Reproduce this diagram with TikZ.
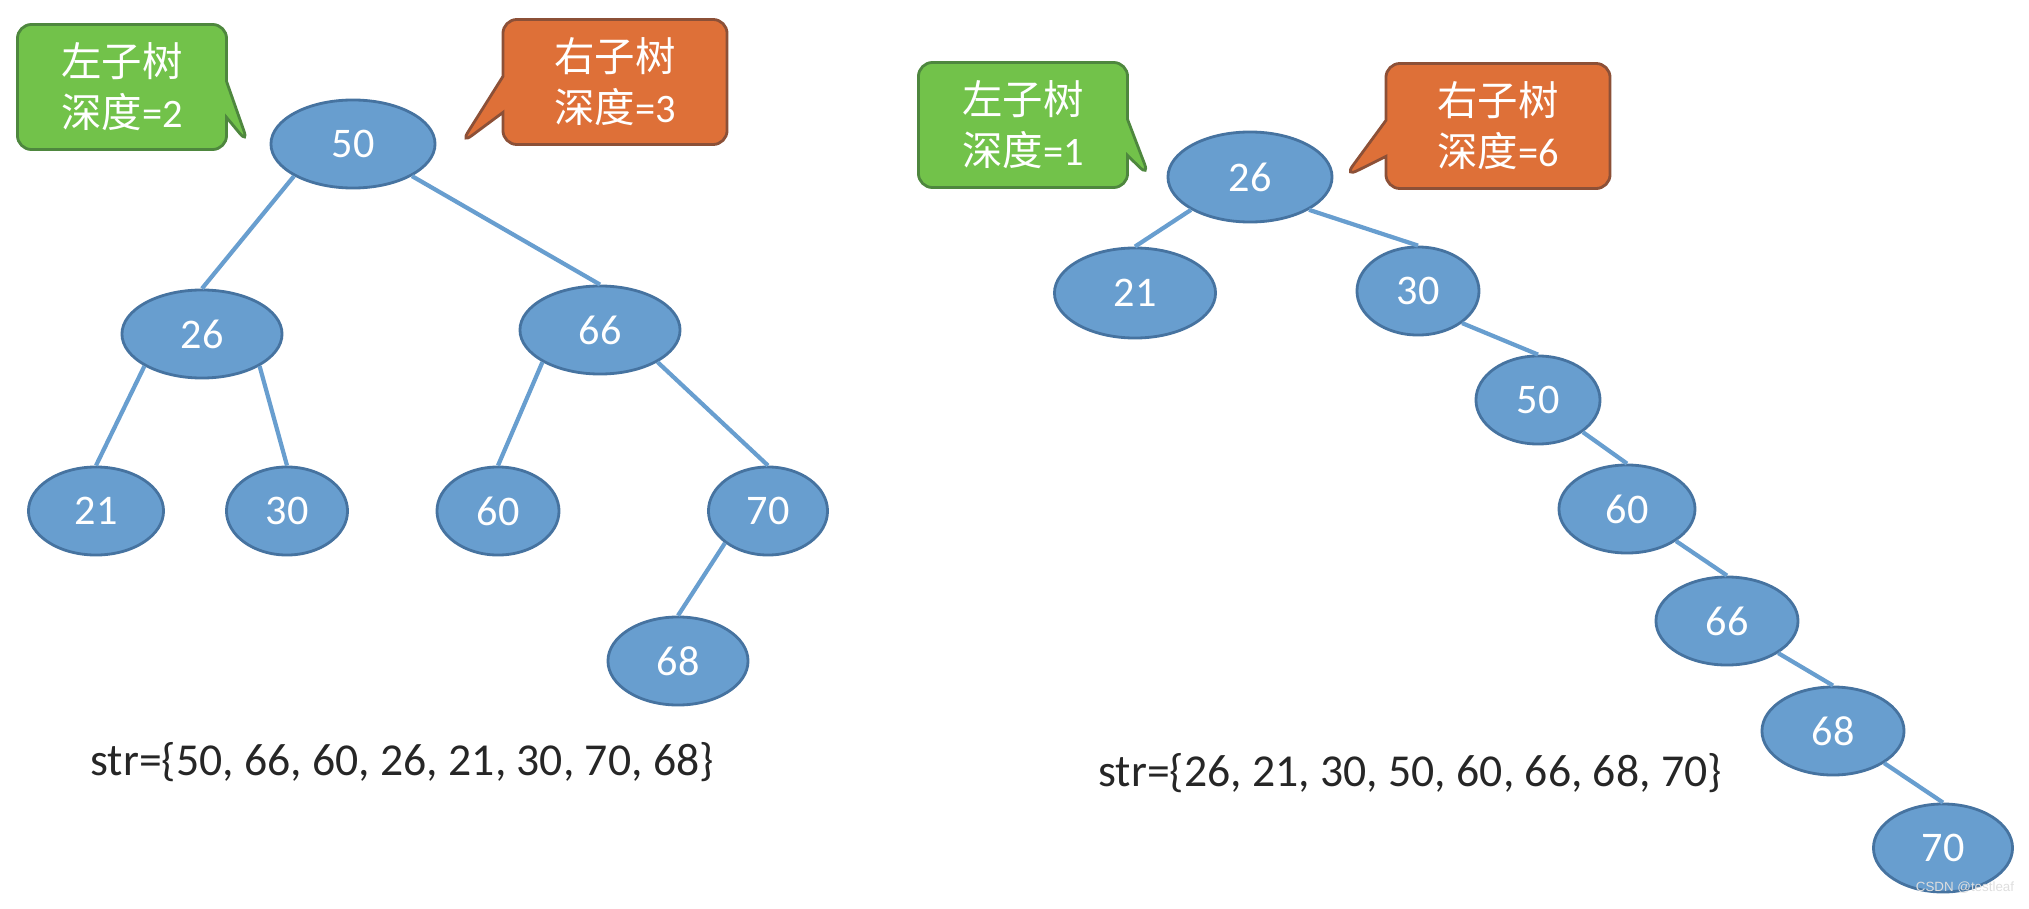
\documentclass[tikz,border=0pt]{standalone}
\usepackage{fontspec}
\setmainfont{Carlito}
\newfontfamily\cjk{Noto Sans CJK SC}
\newfontfamily\markfont{Liberation Sans}
\usetikzlibrary{shapes.geometric,shapes.callouts}
\definecolor{nodeblue}{RGB}{104,158,207}
\definecolor{nodeedge}{RGB}{70,115,160}
\definecolor{lblgreen}{RGB}{114,194,74}
\definecolor{lblgreenedge}{RGB}{78,135,62}
\definecolor{lblorange}{RGB}{222,112,56}
\definecolor{lblorangeedge}{RGB}{140,80,55}
\definecolor{markgray}{RGB}{222,222,222}
\tikzset{
  elem/.style={ellipse, draw=nodeedge, fill=nodeblue, line width=0.8pt, minimum height=0.88cm, inner sep=0pt, text=white, font=\fontsize{12}{14}\selectfont},
  link/.style={nodeblue, line width=1.2pt},
  tipbox/.style={rectangle callout, rounded corners=4pt, line width=0.8pt, minimum height=1.25cm, text=white, align=center, font=\fontsize{11.5}{14.5}\selectfont, callout pointer width=0.36cm},
  leftbox/.style={tipbox, fill=lblgreen, draw=lblgreenedge, minimum width=2.09cm},
  rightbox/.style={tipbox, fill=lblorange, draw=lblorangeedge, minimum width=2.24cm},
  seq/.style={text=black!85, font=\fontsize{13}{15}\selectfont}
}
\begin{document}
\begin{tikzpicture}[x=0.01cm, y=-0.01cm]
  \useasboundingbox (0,0) rectangle (2029,909);
  % tree built from 50
  \node[elem, minimum width=1.64cm] (a50) at (353,144) {50};
  \node[elem, minimum width=1.60cm] (a26) at (202,334) {26};
  \node[elem, minimum width=1.60cm] (a66) at (600,330) {66};
  \node[elem, minimum width=1.35cm] (a21) at (96,511) {21};
  \node[elem, minimum width=1.21cm] (a30) at (287,511) {30};
  \node[elem, minimum width=1.22cm] (a60) at (498,511) {60};
  \node[elem, minimum width=1.19cm] (a70) at (768,511) {70};
  \node[elem, minimum width=1.40cm] (a68) at (678,661) {68};
  \draw[link] (a50.south west) -- (a26.north);
  \draw[link] (a50.south east) -- (a66.north);
  \draw[link] (a26.south west) -- (a21.north);
  \draw[link] (a26.south east) -- (a30.north);
  \draw[link] (a66.south west) -- (a60.north);
  \draw[link] (a66.south east) -- (a70.north);
  \draw[link] (a70.south west) -- (a68.north);
  \node[leftbox, callout absolute pointer={([xshift=-0.21cm]a50.west)}] (aleft) at (122,87) {{\cjk 左子树}\\{\cjk 深度}=2};
  \node[rightbox, callout absolute pointer={([xshift=0.24cm]a50.east)}] (aright) at (615,82) {{\cjk 右子树}\\{\cjk 深度}=3};
  \node[seq] (aseq) at (402,762) {str=\{50, 66, 60, 26, 21, 30, 70, 68\}};
  % tree built from 26
  \node[elem, minimum width=1.64cm, minimum height=0.90cm] (b26) at (1250,177) {26};
  \node[elem, minimum width=1.61cm, minimum height=0.90cm] (b21) at (1135,293) {21};
  \node[elem, minimum width=1.22cm] (b30) at (1418,291) {30};
  \node[elem, minimum width=1.24cm] (b50) at (1538,400) {50};
  \node[elem, minimum width=1.36cm] (b60) at (1627,509) {60};
  \node[elem, minimum width=1.42cm] (b66) at (1727,621) {66};
  \node[elem, minimum width=1.42cm] (b68) at (1833,731) {68};
  \node[elem, minimum width=1.39cm] (b70) at (1943,848) {70};
  \draw[link] (b26.south west) -- (b21.north);
  \draw[link] (b26.south east) -- (b30.north);
  \draw[link] (b30.south east) -- (b50.north);
  \draw[link] (b50.south east) -- (b60.north);
  \draw[link] (b60.south east) -- (b66.north);
  \draw[link] (b66.south east) -- (b68.north);
  \draw[link] (b68.south east) -- (b70.north);
  \node[leftbox, callout absolute pointer={([xshift=-0.17cm]b26.west)}] (bleft) at (1023,125) {{\cjk 左子树}\\{\cjk 深度}=1};
  \node[rightbox, callout absolute pointer={([xshift=0.11cm]b26.east)}] (bright) at (1498,126) {{\cjk 右子树}\\{\cjk 深度}=6};
  \node[seq] (bseq) at (1410,773) {str=\{26, 21, 30, 50, 60, 66, 68, 70\}};
  \node[text=markgray, font=\markfont\fontsize{3.8}{4}\selectfont] (mark) at (1965,888) {CSDN @testleaf};
\end{tikzpicture}
\end{document}
